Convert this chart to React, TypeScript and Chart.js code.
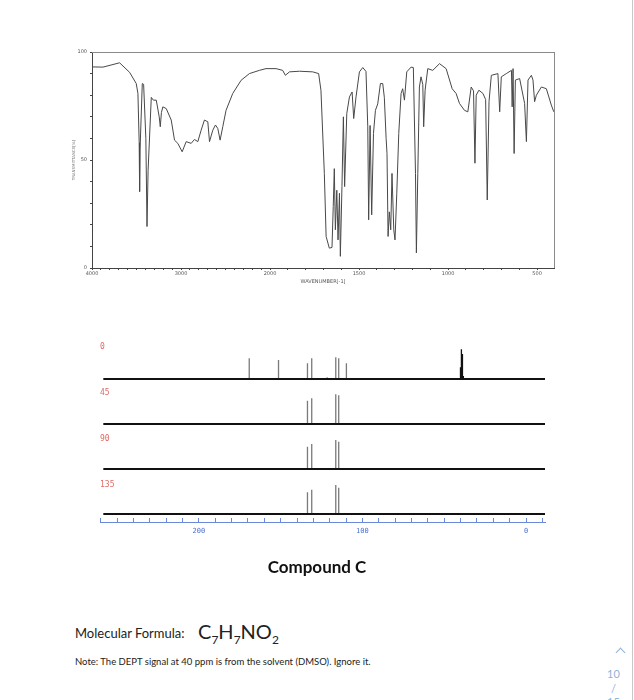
import React, { useEffect, useRef } from 'react';
import { Chart, registerables } from 'chart.js';
Chart.register(...registerables);

// ---------- IR spectrum data ----------
const irWavenumbers = [
  4000, 3877, 3690, 3578, 3503, 3484, 3470, 3465, 3460, 3435, 3420, 3395, 3382, 3370, 3334, 3310, 3278, 3245, 3233, 3220,
  3204, 3166, 3110, 3073, 3036, 2987, 2942, 2886, 2849, 2811, 2774, 2737, 2699, 2680, 2643, 2613, 2587, 2561, 2531, 2494,
  2419, 2325, 2232, 2120, 2045, 1966, 1929, 1914, 1891, 1835, 1760, 1727, 1714, 1695, 1685, 1667, 1652, 1645, 1639, 1633,
  1625, 1618, 1610, 1605, 1596, 1588, 1581, 1569, 1554, 1539, 1530, 1517, 1498, 1479, 1461, 1451, 1446, 1438, 1429, 1419,
  1408, 1395, 1380, 1367, 1358, 1348, 1343, 1337, 1330, 1322, 1315, 1305, 1298, 1288, 1277, 1264, 1255, 1245, 1232, 1208,
  1195, 1183, 1178, 1170, 1161, 1152, 1142, 1137, 1129, 1114, 1086, 1048, 1011, 977, 955, 936, 908, 889, 870, 857,
  849, 842, 827, 804, 789, 780, 770, 757, 720, 710, 701, 673, 644, 640, 635, 629, 622, 598, 570, 560,
  551, 532, 523, 514, 504, 476, 448, 420, 406,
];
const irTransmittance = [
  93.1, 93, 95, 90.6, 85.4, 80.8, 58, 35.4, 55, 85.4, 85, 60, 19.2, 45, 79, 77.7, 77.7, 70, 65.4, 72,
  74.6, 73.8, 68.5, 59.2, 57.7, 53.8, 58.5, 57.7, 59.5, 58.5, 63.8, 68.5, 67.7, 58.5, 63.8, 66.2, 64.6, 59.2, 65.4, 73,
  80.8, 86.9, 90, 91.5, 92.3, 92.3, 91.5, 89.2, 90.8, 91.1, 90.8, 90, 82.3, 43.8, 14.6, 9.2, 9.5, 28.5, 46, 17.7,
  36, 13, 34.6, 5.4, 37.7, 70, 37.7, 71.5, 79.2, 81.5, 69.2, 79.2, 90.8, 92.8, 91, 65.4, 22.3, 66, 24.6, 62.3,
  73, 76, 85.4, 85.4, 79, 60, 53, 14.6, 26, 17.7, 43.8, 17.7, 13, 34.6, 62.3, 80.8, 83, 77.7, 90.8, 93,
  92.8, 43.8, 7, 43.8, 83.8, 88.5, 85, 65.4, 82.3, 92.3, 91.5, 94.6, 92.3, 83, 80.8, 76.2, 73, 72.3, 83.8, 82,
  48.5, 80, 82.3, 80.8, 78, 31.5, 77, 89.2, 90, 72.3, 88.5, 90, 91.5, 74.6, 92.3, 53, 87, 87.7, 76.2, 58.5,
  87, 89.2, 87, 77, 80, 83.8, 83, 75.4, 72.3,
];
const irTickLabels = [4000, 3000, 2000, 1500, 1000, 500];
const irYTickLabels = [0, 50, 100];

// ---------- DEPT data (ppm, relative intensity) ----------
const dept0Ppm = [169.2, 151.3, 133.6, 131.0, 121.6, 116.3, 114.5, 109.8];
const dept0Int = [20.7, 19, 15.7, 20.7, 1.7, 21.7, 20.7, 15.7];
const dmsoPpm = [40.3, 39.9, 39.5, 39.1, 38.7, 38.3];
const dmsoInt = [3, 11.7, 29.7, 25, 9, 3];
const dept45Ppm = [133.6, 131.0, 116.3, 114.5, 20.6];
const dept45Int = [23.3, 25.7, 29.7, 28.7, 1];
const dept90Ppm = [133.6, 131.0, 116.3, 114.5, 20.6, 12.0];
const dept90Int = [22.3, 25, 29, 27.3, 1, 0.7];
const dept135Ppm = [133.6, 131.0, 116.3, 114.5];
const dept135Int = [21.7, 24.3, 29, 26.3];
const deptLabels = ['0', '45', '90', '135'];
const ppmTickLabels = [200, 100, 0];

// ---------- helpers ----------
const wnToPos = (w: number) => (w <= 2000 ? w : 2000 + (w - 2000) / 2);
const posToWn = (p: number) => (p <= 2000 ? p : 2000 + (p - 2000) * 2);

const PPM_MIN = -11.6;
const PPM_MAX = 260;

function stickData(ppm: number[], ints: number[]) {
  const pts: { x: number; y: number }[] = [];
  ppm.forEach((p, i) => {
    pts.push({ x: p, y: 0 }, { x: p, y: ints[i] }, { x: p, y: 0 });
  });
  return pts;
}

const framePlugin = {
  id: 'irFrame',
  afterDraw(chart: any) {
    const { ctx, chartArea } = chart;
    ctx.save();
    ctx.strokeStyle = '#8a8a8a';
    ctx.lineWidth = 1;
    ctx.beginPath();
    ctx.moveTo(chartArea.left, Math.round(chartArea.top) + 0.5);
    ctx.lineTo(chartArea.right, Math.round(chartArea.top) + 0.5);
    ctx.moveTo(Math.round(chartArea.right) + 0.5, chartArea.top);
    ctx.lineTo(Math.round(chartArea.right) + 0.5, chartArea.bottom);
    ctx.stroke();
    ctx.restore();
  },
};

function makeDeptChart(
  canvas: HTMLCanvasElement,
  ppm: number[],
  ints: number[],
  extra: { ppm: number[]; ints: number[] } | null,
  withAxis: boolean
) {
  const datasets: any[] = [
    {
      data: [{ x: PPM_MAX - 1.6, y: 0 }, { x: PPM_MIN, y: 0 }],
      borderColor: '#111',
      borderWidth: 2,
      pointRadius: 0,
      clip: false,
    },
    {
      data: stickData(ppm, ints),
      borderColor: '#7a7a7a',
      borderWidth: 1.3,
      pointRadius: 0,
      clip: false,
    },
  ];
  if (extra) {
    datasets.push({
      data: stickData(extra.ppm, extra.ints),
      borderColor: '#111',
      borderWidth: 1.3,
      pointRadius: 0,
      clip: false,
    });
  }
  const axisColor = withAxis ? '#6a8ad8' : 'rgba(0,0,0,0)';
  return new Chart(canvas, {
    type: 'line',
    data: { datasets },
    options: {
      animation: false,
      responsive: false,
      events: [],
      layout: { padding: { left: 100.7, right: 89, top: 0, bottom: 0 } },
      plugins: { legend: { display: false }, tooltip: { enabled: false } },
      scales: {
        x: {
          type: 'linear',
          reverse: true,
          min: PPM_MIN,
          max: PPM_MAX,
          display: true,
          afterBuildTicks: (s: any) => {
            const t: any[] = [];
            for (let v = 260; v >= -10; v -= 10) t.push({ value: v });
            s.ticks = t;
          },
          afterFit: (s: any) => {
            s.height = 20;
          },
          ticks: {
            display: withAxis,
            autoSkip: false,
            maxRotation: 0,
            minRotation: 0,
            padding: 9,
            color: '#4a6fcf',
            font: { family: 'DejaVu Sans Mono', size: 7 },
            callback: (v: any) => (ppmTickLabels.includes(Number(v)) ? String(v) : ''),
          },
          grid: { drawOnChartArea: false, drawTicks: withAxis, tickLength: -4, color: axisColor },
          border: { display: withAxis, color: axisColor, width: 1 },
        },
        y: {
          type: 'linear',
          display: false,
          min: -8,
          max: 42,
        },
      },
    },
  });
}

export default function App() {
  const irRef = useRef<HTMLCanvasElement>(null);
  const d0 = useRef<HTMLCanvasElement>(null);
  const d45 = useRef<HTMLCanvasElement>(null);
  const d90 = useRef<HTMLCanvasElement>(null);
  const d135 = useRef<HTMLCanvasElement>(null);

  useEffect(() => {
    const charts: Chart[] = [];
    if (irRef.current) {
      charts.push(
        new Chart(irRef.current, {
          type: 'line',
          data: {
            datasets: [
              {
                data: irWavenumbers.map((w, i) => ({ x: wnToPos(w), y: irTransmittance[i] })),
                borderColor: '#484848',
                borderWidth: 1,
                pointRadius: 0,
                tension: 0,
              },
            ],
          },
          options: {
            animation: false,
            responsive: false,
            events: [],
            layout: { padding: { left: 0, right: 80, top: 52, bottom: 0 } },
            plugins: { legend: { display: false }, tooltip: { enabled: false } },
            scales: {
              x: {
                type: 'linear',
                reverse: true,
                min: wnToPos(405),
                max: wnToPos(4000),
                afterBuildTicks: (s: any) => {
                  const t: any[] = [];
                  for (let w = 4000; w >= 500; w -= 100) t.push({ value: wnToPos(w) });
                  s.ticks = t;
                },
                afterFit: (s: any) => {
                  s.height = 32;
                },
                ticks: {
                  autoSkip: false,
                  maxRotation: 0,
                  minRotation: 0,
                  padding: 1,
                  color: '#555',
                  font: { family: 'DejaVu Sans', size: 5 },
                  callback: (v: any) => {
                    const w = Math.round(posToWn(Number(v)));
                    return irTickLabels.includes(w) ? String(w) : '';
                  },
                },
                grid: { drawOnChartArea: false, drawTicks: true, tickLength: 2, color: '#444' },
                border: { color: '#444', width: 1 },
                title: {
                  display: true,
                  text: 'WAVENUMBER[-1]',
                  color: '#555',
                  font: { family: 'DejaVu Sans', size: 5 },
                  padding: { top: 0, bottom: 15 },
                },
              },
              y: {
                type: 'linear',
                min: 0,
                max: 100,
                afterBuildTicks: (s: any) => {
                  const t: any[] = [];
                  for (let v = 0; v <= 100; v += 10) t.push({ value: v });
                  s.ticks = t;
                },
                afterFit: (s: any) => {
                  s.width = 92;
                },
                ticks: {
                  autoSkip: false,
                  padding: 3,
                  color: '#555',
                  font: { family: 'DejaVu Sans', size: 5 },
                  callback: (v: any) => (irYTickLabels.includes(Number(v)) ? String(v) : ''),
                },
                grid: { drawOnChartArea: false, drawTicks: true, tickLength: 2, color: '#444' },
                border: { color: '#444', width: 1 },
                title: {
                  display: true,
                  text: 'TRANSMITTANCE[%]',
                  color: '#777',
                  font: { family: 'DejaVu Sans', size: 4 },
                  padding: { top: 72, bottom: 0 },
                },
              },
            },
          },
          plugins: [framePlugin],
        })
      );
    }
    if (d0.current) charts.push(makeDeptChart(d0.current, dept0Ppm, dept0Int, { ppm: dmsoPpm, ints: dmsoInt }, false));
    if (d45.current) charts.push(makeDeptChart(d45.current, dept45Ppm, dept45Int, null, false));
    if (d90.current) charts.push(makeDeptChart(d90.current, dept90Ppm, dept90Int, null, false));
    if (d135.current) charts.push(makeDeptChart(d135.current, dept135Ppm, dept135Int, null, true));
    return () => charts.forEach((c) => c.destroy());
  }, []);

  const abs = (left: number, top: number): React.CSSProperties => ({ position: 'absolute', left, top });
  const baselines = [379, 424, 469, 514];
  const labelTops = [342, 388, 434, 480];
  const refs = [d0, d45, d90, d135];

  return (
    <div
      style={{
        position: 'absolute',
        left: 0,
        top: 0,
        width: 634,
        height: 700,
        overflow: 'hidden',
        background: '#fff',
      }}
    >
      <canvas ref={irRef} width={634} height={300} style={{ ...abs(0, 0), width: 634, height: 300 }} />
      {refs.map((r, i) => (
        <canvas
          key={i}
          ref={r}
          width={634}
          height={70}
          style={{ ...abs(0, baselines[i] - 42), width: 634, height: 70 }}
        />
      ))}
      {deptLabels.map((t, i) => (
        <div
          key={t}
          style={{
            ...abs(100, labelTops[i]),
            color: '#e06a64',
            fontFamily: 'DejaVu Sans Mono',
            fontSize: 8,
            lineHeight: '10px',
          }}
        >
          {t}
        </div>
      ))}
      <div
        style={{
          ...abs(0, 556),
          width: 634,
          textAlign: 'center',
          fontFamily: 'Lato',
          fontWeight: 700,
          fontSize: 17,
          lineHeight: '22px',
          color: '#111',
        }}
      >
        Compound C
      </div>
      <div style={{ ...abs(75, 624), fontFamily: 'Lato', fontSize: 13, lineHeight: '18px', color: '#222' }}>
        Molecular Formula:
      </div>
      <div style={{ ...abs(198, 619), fontFamily: 'Lato', fontSize: 20, lineHeight: '24px', color: '#222' }}>
        C<sub style={{ fontSize: 12 }}>7</sub>H<sub style={{ fontSize: 12 }}>7</sub>NO<sub style={{ fontSize: 12 }}>2</sub>
      </div>
      <div style={{ ...abs(75, 656), fontFamily: 'Lato', fontSize: 9.5, lineHeight: '12px', color: '#222' }}>
        Note: The DEPT signal at 40 ppm is from the solvent (DMSO). Ignore it.
      </div>
      <div
        style={{
          ...abs(617, 649),
          width: 6,
          height: 6,
          borderTop: '1.2px solid #8fb3d9',
          borderLeft: '1.2px solid #8fb3d9',
          transform: 'rotate(45deg)',
        }}
      />
      <div style={{ ...abs(607, 667), fontFamily: 'Lato', fontSize: 11, lineHeight: '14px', color: '#8fb3d9' }}>10</div>
      <div style={{ ...abs(611, 682), fontFamily: 'Lato', fontSize: 11, lineHeight: '14px', color: '#8fb3d9' }}>/</div>
      <div style={{ ...abs(607, 695), fontFamily: 'Lato', fontSize: 11, lineHeight: '14px', color: '#8fb3d9' }}>15</div>
      <div style={{ ...abs(632, 0), width: 1, height: 700, background: '#c8c8c8' }} />
    </div>
  );
}
